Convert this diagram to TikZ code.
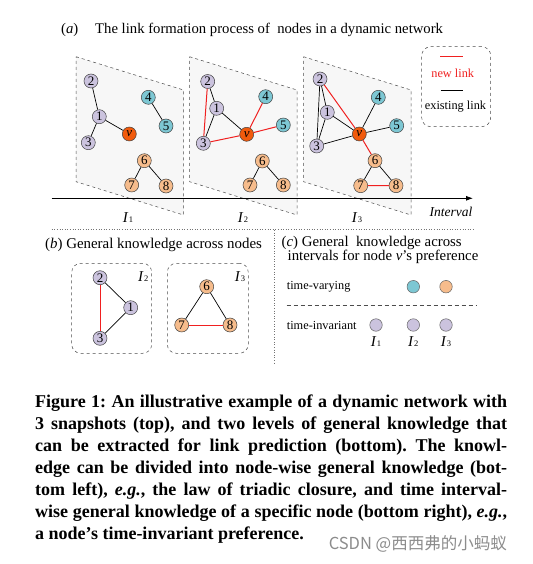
\documentclass[tikz,border=0pt]{standalone}
\usepackage{fontspec}
\setmainfont{Liberation Serif}
\newfontfamily\cjk{Noto Sans CJK SC}
\usetikzlibrary{arrows.meta}
\frenchspacing
\definecolor{npurple}{HTML}{CBC3DE}
\definecolor{nblue}{HTML}{7DC7D3}
\definecolor{norange}{HTML}{F6BC8C}
\definecolor{nv}{HTML}{F15A0C}
\definecolor{nred}{HTML}{F02020}
\definecolor{panelfill}{HTML}{F7F7F7}
\tikzset{
  gnode/.style={circle,draw=black!75,line width=0.5pt,minimum size=14pt,inner sep=0pt,font=\fontsize{13}{13}\selectfont},
  pu/.style={gnode,fill=npurple},
  bl/.style={gnode,fill=nblue},
  orn/.style={gnode,fill=norange},
  vn/.style={gnode,fill=nv},
  oldl/.style={draw=black,line width=0.7pt},
  newl/.style={draw=nred,line width=1pt},
  panel/.style={draw=black!70,dashed,fill=panelfill,line width=0.5pt},
  rbox/.style={draw=black!70,dashed,rounded corners=9pt,line width=0.5pt},
  cdot/.style={circle,draw=black!60,line width=0.5pt,minimum size=12.5pt,inner sep=0pt},
  lab/.style={font=\fontsize{12.3}{13}\selectfont,inner sep=0pt},
  ilab/.style={font=\fontsize{15}{15}\selectfont,inner sep=0pt},
}
\newcommand{\Ilab}[1]{\textit{I}\kern0.5pt{\fontsize{8.5}{8.5}\selectfont #1}}
\begin{document}
\begin{tikzpicture}[x=1pt,y=-1pt]
\useasboundingbox (0,0) rectangle (532,564);
\fill[white] (0,0) rectangle (532,564);
% title
\node[anchor=west,inner sep=0pt,font=\fontsize{14.7}{15}\selectfont] (ta) at (61,30) {(\textit{a})};
\node[anchor=west,inner sep=0pt,font=\fontsize{14.7}{15}\selectfont] (tt) at (95,30) {The link formation process of\ \ nodes in a dynamic network};
% panels
\foreach \dx in {0,113.5,227.5}{
  \filldraw[panel] (76+\dx,56.7) -- (183.5+\dx,90) -- (183.5+\dx,215) -- (76+\dx,181.7) -- cycle;
}
% axis
\coordinate (ax0) at (51.7,198.3);
\coordinate (ax1) at (473,198.3);
\draw[line width=0.8pt,-{Latex[length=7pt,width=5pt]}] (ax0) -- (ax1);
\node[ilab] (i1) at (128,218) {\Ilab{1}};
\node[ilab] (i2) at (243,218) {\Ilab{2}};
\node[ilab] (i3) at (357,218) {\Ilab{3}};
\node[ilab,font=\fontsize{13.5}{13.5}\selectfont\itshape] (iv) at (451,212) {Interval};
% panel 1
\node[pu] (a2) at (91,81) {2};
\node[pu] (a1) at (99.3,116.7) {1};
\node[pu] (a3) at (88.3,142.7) {3};
\node[vn] (av) at (129.3,134) {\textit{v}};
\node[bl] (a4) at (148.3,97.3) {4};
\node[bl] (a5) at (166,126) {5};
\node[orn] (a6) at (144.3,160.7) {6};
\node[orn] (a7) at (131.7,185) {7};
\node[orn] (a8) at (166,186) {8};
\draw[oldl] (a2)--(a1) (a1)--(a3) (a1)--(av) (a4)--(a5) (a6)--(a7) (a6)--(a8);
% panel 2
\node[pu] (b2) at (207.7,81.5) {2};
\node[pu] (b1) at (216.7,108.3) {1};
\node[pu] (b3) at (203.3,143.3) {3};
\node[vn] (bv) at (246.7,134.3) {\textit{v}};
\node[bl] (b4) at (265.7,96.7) {4};
\node[bl] (b5) at (283.3,125) {5};
\node[orn] (b6) at (262.3,161) {6};
\node[orn] (b7) at (250,185) {7};
\node[orn] (b8) at (283.3,185) {8};
\draw[oldl] (b2)--(b1) (b1)--(b3) (b1)--(bv) (b6)--(b7) (b6)--(b8);
\draw[newl] (b2)--(b3) (b3)--(bv) (bv)--(b4) (bv)--(b5);
% panel 3
\node[pu] (c2) at (320,79) {2};
\node[pu] (c1) at (327.3,112.3) {1};
\node[pu] (c3) at (316.7,146) {3};
\node[vn] (cv) at (359.3,134) {\textit{v}};
\node[bl] (c4) at (378.3,97.3) {4};
\node[bl] (c5) at (396.7,125.7) {5};
\node[orn] (c6) at (375,160.7) {6};
\node[orn] (c7) at (360.7,185.7) {7};
\node[orn] (c8) at (396,185.7) {8};
\draw[oldl] (c2)--(c3) (c2)--(c1) (c1)--(c3) (c1)--(cv) (c3)--(cv) (cv)--(c4) (cv)--(c5) (c6)--(c7) (c6)--(c8);
\draw[newl] (c2)--(cv) (cv)--(c6) (c7)--(c8);
% legend
\node[rbox,minimum width=69pt,minimum height=80pt] (leg) at (456.2,86.7) {};
\coordinate (lr0) at (440,56.7); \coordinate (lr1) at (463.3,56.7);
\draw[newl] (lr0)--(lr1);
\node[lab,text=nred] (lnew) at (452.7,73.3) {new link};
\coordinate (lb0) at (440.5,90.3); \coordinate (lb1) at (463,90.3);
\draw[oldl] (lb0)--(lb1);
\node[lab] (lold) at (455.5,107) {existing link};
% separators
\coordinate (s0) at (51.7,229.5); \coordinate (s1) at (473,229.5);
\draw[dotted,black!55,line width=0.6pt] (s0)--(s1);
\coordinate (v0) at (274.5,230); \coordinate (v1) at (274.5,365);
\draw[dotted,black!55,line width=0.6pt] (v0)--(v1);
% (b)
\node[anchor=west,inner sep=0pt,font=\fontsize{14.9}{15}\selectfont] (tb) at (45,245) {(\textit{b})\ General knowledge across nodes};
\node[rbox,minimum width=80pt,minimum height=90pt] (bx1) at (111.7,308.3) {};
\node[rbox,minimum width=81pt,minimum height=90pt] (bx2) at (207.8,308.3) {};
\node[pu] (d2) at (100,277.7) {2};
\node[pu] (d1) at (130.7,307.7) {1};
\node[pu] (d3) at (100,338.3) {3};
\draw[oldl] (d2)--(d1) (d3)--(d1);
\draw[newl] (d2)--(d3);
\node[ilab] (dl) at (143.3,277) {\Ilab{2}};
\node[orn] (e6) at (206.7,286.7) {6};
\node[orn] (e7) at (181.7,325) {7};
\node[orn] (e8) at (230,325) {8};
\draw[oldl] (e6)--(e7) (e6)--(e8);
\draw[newl] (e7)--(e8);
\node[ilab] (el) at (240,277) {\Ilab{3}};
% (c)
\node[anchor=west,inner sep=0pt,font=\fontsize{14.8}{15}\selectfont] (tc1) at (281.5,243.3) {(\textit{c})\ General\ \ knowledge across};
\node[anchor=west,inner sep=0pt,font=\fontsize{14.8}{15}\selectfont] (tc2) at (287.5,257) {intervals for node \textit{v}'s preference};
\node[lab,anchor=west] (tv) at (286.7,287) {time-varying};
\node[cdot,fill=nblue] (f2) at (413.3,286.7) {};
\node[cdot,fill=norange] (f3) at (446,286.7) {};
\coordinate (dl0) at (286.7,305); \coordinate (dl1) at (477,305);
\draw[dashed,black!70,line width=0.6pt,dash pattern=on 4pt off 3pt] (dl0)--(dl1);
\node[lab,anchor=west] (ti) at (286.7,325.5) {time-invariant};
\node[cdot,fill=npurple] (g1) at (376,325) {};
\node[cdot,fill=npurple] (g2) at (413.3,325) {};
\node[cdot,fill=npurple] (g3) at (446,325) {};
\node[ilab] (h1) at (376,342) {\Ilab{1}};
\node[ilab] (h2) at (413.3,342) {\Ilab{2}};
\node[ilab] (h3) at (446,342) {\Ilab{3}};
% caption
\node[anchor=north west,inner sep=0pt,text width=472pt,align=justify,
  font=\fontsize{18}{21.9}\selectfont\bfseries] (cap) at (35,395) {%
Figure 1: An illustrative example of a dynamic network with\linebreak
3 snapshots (top), and two levels of general knowledge that\linebreak
can be extracted for link prediction (bottom). The knowl-\linebreak
edge can be divided into node-wise general knowledge (bot-\linebreak
tom left), \textit{e.g.}, the law of triadic closure, and time interval-\linebreak
wise general knowledge of a specific node (bottom right), \textit{e.g.},\linebreak
a node's time-invariant preference.};
\node[anchor=east,inner sep=0pt,text=black!45,font=\cjk\fontsize{16.5}{17}\selectfont] (wm) at (507,544) {CSDN @西西弗的小蚂蚁};
\end{tikzpicture}
\end{document}
